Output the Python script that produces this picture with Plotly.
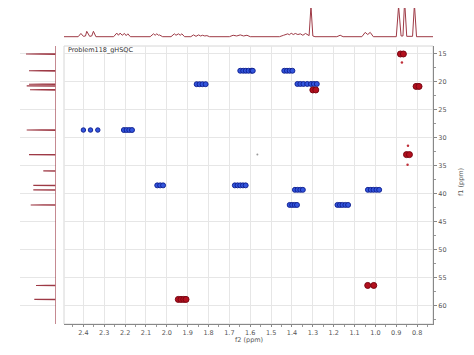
import plotly.graph_objects as go

W, H = 474, 355
OFF = 8  # page body margin in the browser

# ---------------- data ----------------
# 1D proton trace on top (f2 ppm, intensity)
top_ppm = [2.493, 2.425, 2.412, 2.400, 2.390, 2.384, 2.370, 2.360, 2.352, 2.340,
           2.255, 2.240, 2.232, 2.224, 2.214, 2.203, 2.195, 2.187, 2.175,
           2.080, 2.064, 2.056, 2.048, 2.040, 2.036, 2.020,
           1.980, 1.964, 1.956, 1.944, 1.936, 1.928, 1.915,
           1.885, 1.872, 1.860, 1.848, 1.838, 1.829, 1.818, 1.808, 1.795,
           1.700, 1.682, 1.665, 1.648, 1.632, 1.616, 1.600,
           1.460, 1.440, 1.420, 1.412, 1.404, 1.394, 1.384, 1.372, 1.360, 1.348, 1.335, 1.318,
           1.309, 1.300, 1.290,
           1.185, 1.169, 1.155,
           1.065, 1.049, 1.037, 1.025, 1.010,
           0.900, 0.889, 0.877, 0.868, 0.860, 0.850, 0.822, 0.813, 0.803, 0.724]
top_int = [0, 0, 9, 1, 2, 15, 1, 2, 15, 0,
           0, 10, 4, 10, 4, 9, 3, 8, 0,
           0, 8, 4, 8, 4, 5, 0,
           0, 8, 4, 8, 4, 8, 0,
           0, 5, 1, 5, 2, 4, 2, 3, 0,
           0, 4, 2, 5, 2, 4, 0,
           0, 4, 8, 5, 10, 6, 9, 6, 8, 4, 9, 3,
           85, 2, 0,
           0, 4, 0,
           0, 12, 6, 12, 0,
           0, 85, 2, 2, 100, 1, 1, 90, 0, 0]

# 1D carbon projection on the left (f1 ppm, intensity)
left_f1 = [15.0, 18.0, 20.4, 20.7, 21.4, 28.6, 33.0, 35.9, 38.5, 39.3, 42.0, 56.4, 58.9]
left_int = [29.7, 26.7, 26.7, 29.0, 25.7, 29.0, 26.7, 12.4, 22.4, 22.4, 25.0, 19.7, 21.4]

# negative (blue) cross peaks: f1 and list of f2 lobes
blue_f1 = [28.6, 28.6, 20.4, 18.0, 38.5, 38.5, 18.0, 20.36, 39.3, 39.3, 42.0, 42.0]
blue_f2 = [[2.400, 2.366, 2.331],
           [2.206, 2.193, 2.180, 2.167],
           [1.857, 1.843, 1.829, 1.814],
           [1.648, 1.634, 1.621, 1.608, 1.594, 1.588],
           [2.046, 2.032, 2.018],
           [1.674, 1.661, 1.648, 1.635, 1.622],
           [1.437, 1.424, 1.411, 1.398],
           [1.374, 1.360, 1.345, 1.327, 1.309, 1.295, 1.281],
           [1.386, 1.373, 1.360, 1.348],
           [1.036, 1.022, 1.009, 0.995, 0.982],
           [1.411, 1.399, 1.387, 1.376],
           [1.182, 1.170, 1.158, 1.144, 1.131]]
blue_sep = [True, False, False, False, False, False, False, False, False, False, False, False]

# positive (red) cross peaks
red_f1 = [15.0, 20.8, 33.0, 21.43, 56.4, 58.9]
red_f2 = [[0.880, 0.866],
          [0.805, 0.791],
          [0.851, 0.837],
          [1.300, 1.286],
          [1.037, 1.008],
          [1.945, 1.932, 1.919, 1.908]]

# tiny noise dots
dot_f2 = [0.873, 0.844, 0.846]
dot_f1 = [16.5, 31.4, 34.8]
gray_f2 = [1.566]
gray_f1 = [33.0]

x_range = [2.493, 0.724]
y_range = [63.3, 13.57]
x_ticks = [2.4, 2.3, 2.2, 2.1, 2.0, 1.9, 1.8, 1.7, 1.6, 1.5, 1.4, 1.3, 1.2, 1.1, 1.0, 0.9, 0.8]
y_ticks = [15, 20, 25, 30, 35, 40, 45, 50, 55, 60]


# ---------------- layout geometry (reference pixel -> paper) ----------------
def fx(px):
    return (px - OFF) / W


def fy(py):
    return min(1.0, 1 - (py - OFF) / H)


xd = [fx(64), fx(433)]
yd = [fy(324), fy(46)]

trace_col = "#9e3a46"
blue_fill, blue_line = "#3355dd", "#0b1c8c"
red_fill, red_line = "#b3101e", "#7a0612"
font = "DejaVu Sans"

fig = go.Figure()

# top 1D trace
fig.add_trace(go.Scatter(x=top_ppm, y=top_int, mode="lines", xaxis="x2", yaxis="y2",
                         line=dict(color=trace_col, width=1), hoverinfo="skip"))

# left projection
lx, ly = [0], [y_range[1]]
for f, h in zip(left_f1, left_int):
    lx += [0, h, 0]
    ly += [f - 0.07, f, f + 0.07]
lx.append(0)
ly.append(y_range[0])
fig.add_trace(go.Scatter(x=lx, y=ly, mode="lines", xaxis="x3", yaxis="y",
                         line=dict(color=trace_col, width=1.1), hoverinfo="skip"))

# blue cross peaks
for f1, lobes, sep in zip(blue_f1, blue_f2, blue_sep):
    fig.add_trace(go.Scatter(x=lobes, y=[f1] * len(lobes), mode="markers",
                             marker=dict(size=4.5 if sep else 5, color=blue_fill,
                                         line=dict(color=blue_line, width=0.9)),
                             hoverinfo="skip"))
# red cross peaks
for f1, lobes in zip(red_f1, red_f2):
    fig.add_trace(go.Scatter(x=lobes, y=[f1] * len(lobes), mode="markers",
                             marker=dict(size=6, color=red_fill,
                                         line=dict(color=red_line, width=1)),
                             hoverinfo="skip"))
fig.add_trace(go.Scatter(x=dot_f2, y=dot_f1, mode="markers",
                         marker=dict(size=2.5, color="#c0303a"), hoverinfo="skip"))
fig.add_trace(go.Scatter(x=gray_f2, y=gray_f1, mode="markers",
                         marker=dict(size=2, color="#9a9a9a"), hoverinfo="skip"))

axis_font = dict(family=font, size=6.5, color="#555555")

fig.update_layout(
    width=W, height=H, margin=dict(l=0, r=0, t=0, b=0),
    paper_bgcolor="white", plot_bgcolor="white", showlegend=False,
    font=dict(family=font, size=6.5, color="#555555"),
    xaxis=dict(domain=xd, range=x_range, anchor="y", tickvals=x_ticks,
               ticktext=[f"{v:.1f}" for v in x_ticks], ticks="outside", ticklen=2,
               tickcolor="#888888", tickfont=axis_font, showgrid=True,
               gridcolor="#e6e6e6", gridwidth=1, zeroline=False, showline=True,
               linecolor="#888888", linewidth=1,
               minor=dict(dtick=0.05, ticks="outside", ticklen=2, tickcolor="#999999",
                          showgrid=False)),
    yaxis=dict(domain=yd, range=y_range, anchor="x", side="right", tickvals=y_ticks,
               ticks="outside", ticklen=3, tickcolor="#888888", tickfont=axis_font,
               showgrid=True, gridcolor="#e6e6e6", gridwidth=1, zeroline=False,
               showline=True, linecolor="#888888", linewidth=1,
               minor=dict(dtick=2.5, ticks="outside", ticklen=2, tickcolor="#999999",
                          showgrid=False)),
    xaxis2=dict(domain=xd, range=x_range, anchor="y2", visible=False),
    yaxis2=dict(domain=[fy(40), fy(8)], range=[-9.17, 79.7], anchor="x2", visible=False),
    xaxis3=dict(domain=[fx(20), fx(55.7)], range=[35.7, 0], anchor="y", visible=False),
    shapes=[dict(type="rect", xref="paper", yref="paper", x0=xd[0], x1=xd[1],
                 y0=yd[0], y1=yd[1], line=dict(color="#d6d6d6", width=1), layer="below")],
    annotations=[
        dict(text="Problem118_gHSQC", xref="paper", yref="paper",
             x=fx(65.5), y=fy(50), xanchor="left", yanchor="middle",
             showarrow=False, font=dict(family=font, size=6.5, color="#333333")),
        dict(text="f2 (ppm)", xref="paper", yref="paper", x=fx(249), y=fy(340),
             xanchor="center", yanchor="middle", showarrow=False, font=axis_font),
        dict(text="f1 (ppm)", xref="paper", yref="paper", x=fx(461), y=fy(182),
             xanchor="center", yanchor="middle", textangle=-90, showarrow=False,
             font=axis_font),
    ],
)

fig.write_html("out.html")
